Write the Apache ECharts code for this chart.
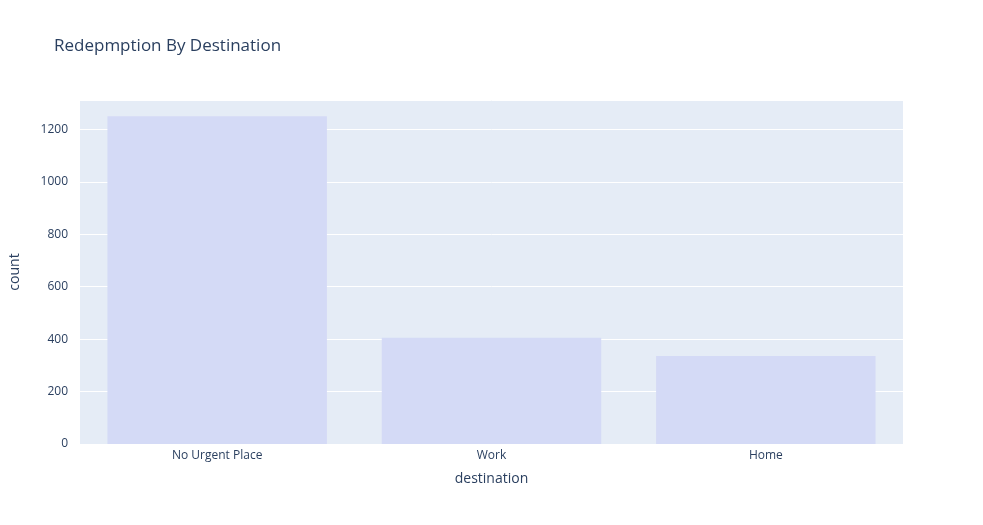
<!DOCTYPE html>
<html><head><meta charset="utf-8">
<script src="https://cdn.jsdelivr.net/npm/echarts@6/dist/echarts.min.js"></script>
<style>html,body{margin:0;padding:0;background:#fff}#c{width:983px;height:525px}</style>
</head><body><div id="c"></div>
<script>
const categories = ["No Urgent Place", "Work", "Home"];
const counts = [1250, 405, 336];
const yTicks = [0, 200, 400, 600, 800, 1000, 1200];

const chart = echarts.init(document.getElementById('c'));
chart.setOption({
  backgroundColor: '#fff',
  textStyle: {fontFamily: '"Open Sans", Verdana, Arial, sans-serif'},
  title: {text: 'Redepmption By Destination', left: 49, top: 33,
    textStyle: {fontSize: 17, fontWeight: 'normal', color: '#2a3f5f', fontFamily: '"Open Sans", Verdana, Arial, sans-serif'}},
  grid: {left: 80, right: 80, top: 100, bottom: 81, backgroundColor: '#e5ecf6', show: true, borderWidth: 0},
  xAxis: {type: 'category', data: categories, name: 'destination', nameLocation: 'middle', nameGap: 28,
    nameTextStyle: {fontSize: 14, color: '#2a3f5f'},
    axisLine: {show: false}, axisTick: {show: false},
    axisLabel: {color: '#2a3f5f', fontSize: 12, margin: 6}},
  yAxis: {type: 'value', min: 0, max: 1312, interval: 200, name: 'count', nameLocation: 'middle', nameGap: 58,
    nameTextStyle: {fontSize: 14, color: '#2a3f5f'},
    axisLine: {show: false}, axisTick: {show: false},
    axisLabel: {color: '#2a3f5f', fontSize: 12, margin: 12, showMaxLabel: false,
      formatter: v => yTicks.includes(v) ? String(v) : ''},
    splitLine: {lineStyle: {color: '#fff', width: 1}}},
  series: [{type: 'bar', data: counts, barCategoryGap: '20%',
    itemStyle: {color: '#d4daf6'}, silent: true}]
});
</script></body></html>
